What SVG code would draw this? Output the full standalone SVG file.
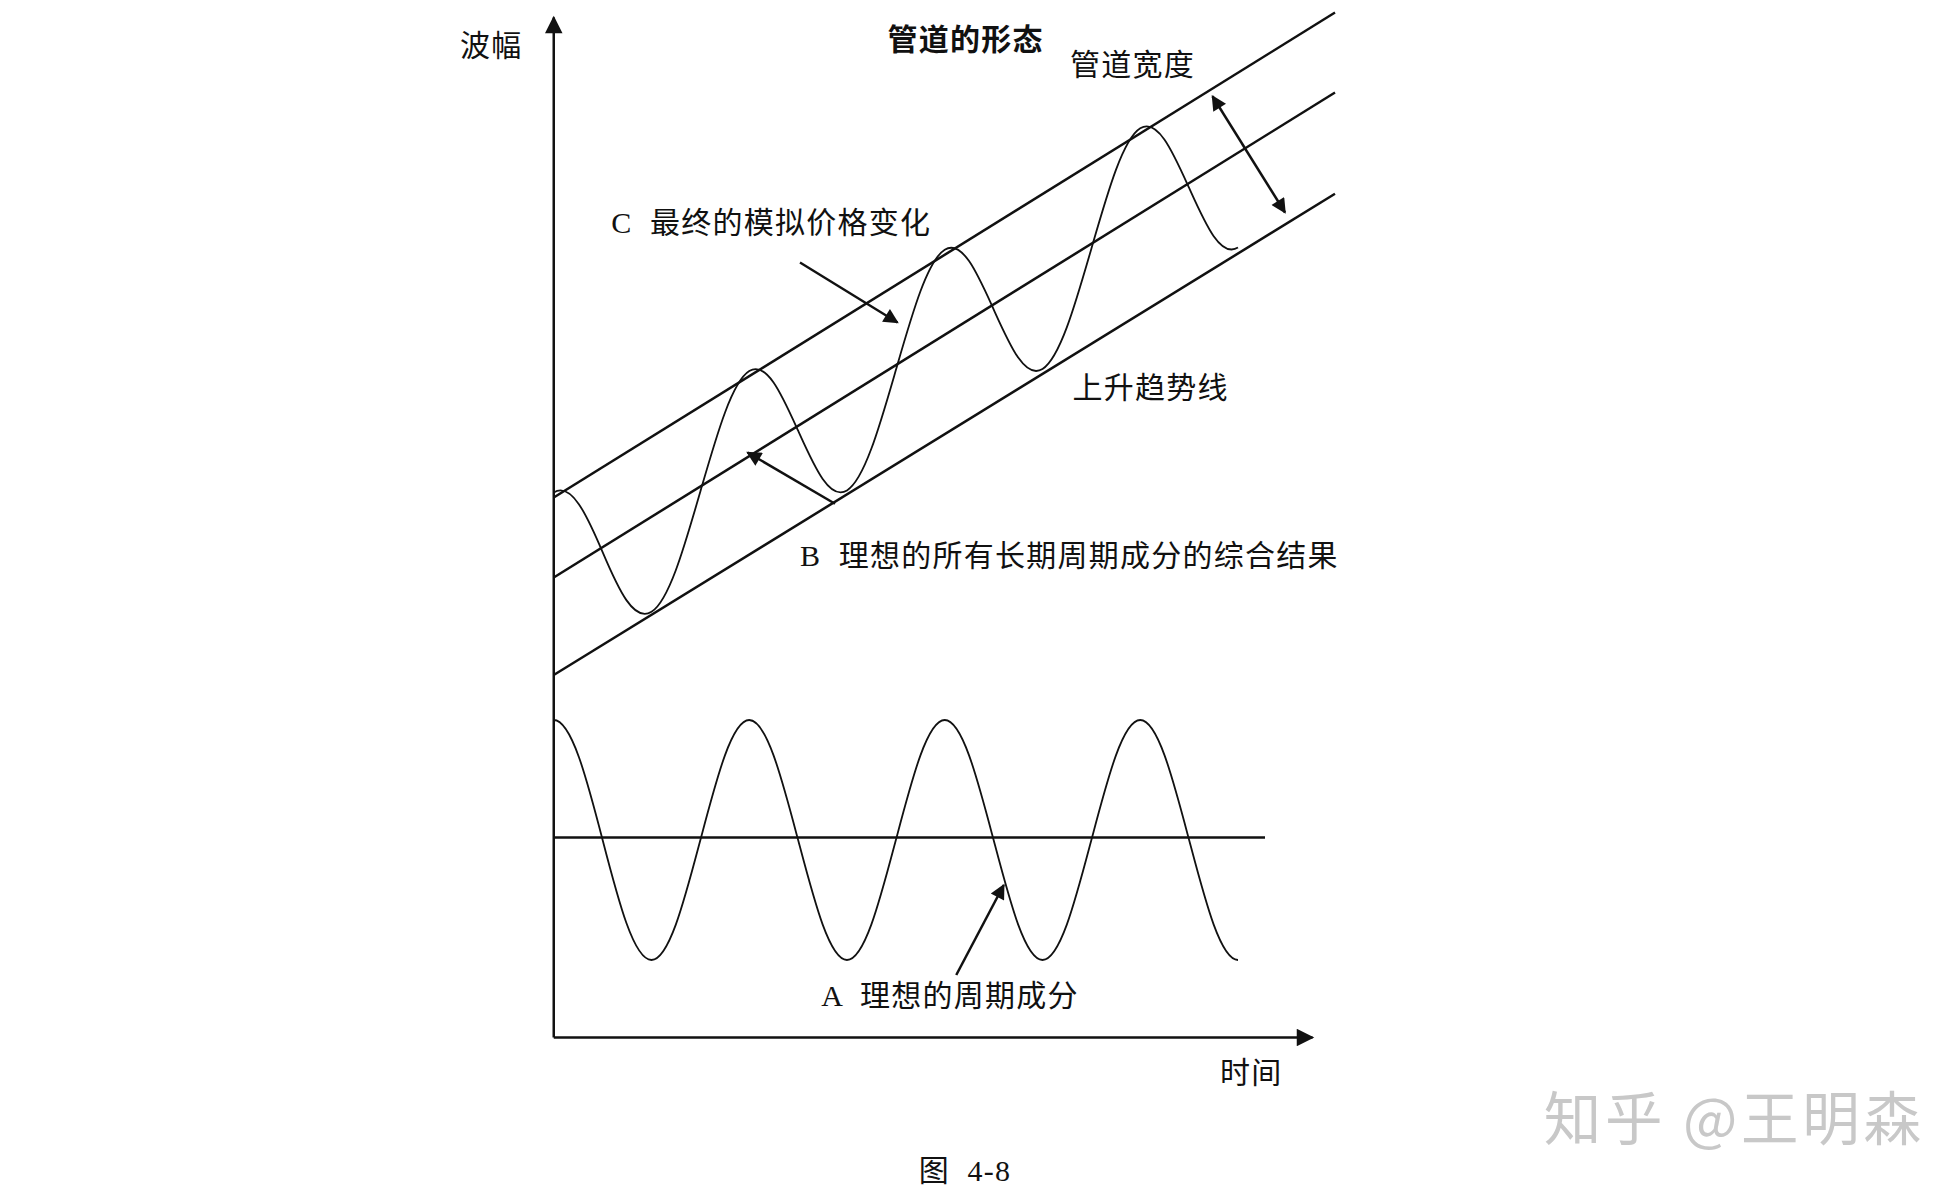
<svg xmlns="http://www.w3.org/2000/svg" width="1960" height="1200" viewBox="0 0 1960 1200">
<style>
.ln{fill:none;stroke:#111;stroke-width:2}
.w{fill:none;stroke:#111;stroke-width:1.8;vector-effect:non-scaling-stroke}
text{font-family:"Liberation Serif","Noto Sans CJK SC",serif;font-size:24px;fill:#111;white-space:pre;letter-spacing:1px}
</style>
<defs>
<marker id="ah" viewBox="0 0 10 10" refX="9" refY="5" markerWidth="16" markerHeight="12" markerUnits="userSpaceOnUse" orient="auto-start-reverse"><path d="M0,0 L10,5 L0,10 Z" fill="#111"/></marker>
<marker id="ax" viewBox="0 0 10 10" refX="9" refY="5" markerWidth="20" markerHeight="14" markerUnits="userSpaceOnUse" orient="auto"><path d="M0,0 L10,5 L0,10 Z" fill="#111"/></marker>
</defs>
<rect width="1960" height="1200" fill="#fff"/>
<g transform="scale(1.25)">
<g id="axes">
<line class="ln" x1="443" y1="830" x2="443" y2="14" marker-end="url(#ax)"/>
<line class="ln" x1="443" y1="830" x2="1050" y2="830" marker-end="url(#ax)"/>
</g>
<g id="channel">
<line class="ln" x1="443" y1="398" x2="1068" y2="10"/>
<line class="ln" x1="443" y1="462" x2="1068" y2="74"/>
<line class="ln" x1="443" y1="540" x2="1068" y2="155"/>
</g>
<g id="waveC" transform="matrix(1,-0.621,0,1,443,462)">
<path class="w" d="M0,-68 c14.17,0 26.37,34.14 39.1,72 s24.97,72 39.1,72 s26.37,-36 39.1,-72 s24.97,-72 39.1,-72
 s26.37,36 39.1,72 s24.97,72 39.1,72 s26.37,-36 39.1,-72 s24.97,-72 39.1,-72
 s26.37,36 39.1,72 s24.97,72 39.1,72 s26.37,-36 39.1,-72 s24.97,-72 39.1,-72
 s26.37,36 39.1,72 s24.97,72 39.1,72"/>
</g>
<g id="waveA">
<line class="ln" x1="443" y1="670" x2="1012" y2="670"/>
<path class="w" transform="translate(443,672)" d="M0,-96 c14.17,0 26.37,46.8 39.1,96 s24.97,96 39.1,96 s26.37,-48 39.1,-96 s24.97,-96 39.1,-96
 s26.37,48 39.1,96 s24.97,96 39.1,96 s26.37,-48 39.1,-96 s24.97,-96 39.1,-96
 s26.37,48 39.1,96 s24.97,96 39.1,96 s26.37,-48 39.1,-96 s24.97,-96 39.1,-96
 s26.37,48 39.1,96 s24.97,96 39.1,96"/>
</g>
<g id="connectors">
<line class="ln" x1="970" y1="77" x2="1028" y2="170" marker-start="url(#ah)" marker-end="url(#ah)"/>
<line class="ln" x1="640" y1="210" x2="718" y2="258" marker-end="url(#ah)"/>
<line class="ln" x1="668" y1="403" x2="598" y2="362" marker-end="url(#ah)"/>
<line class="ln" x1="765" y1="780" x2="803" y2="708" marker-end="url(#ah)"/>
</g>
<g id="labels">
<text x="368" y="45">波幅</text>
<text x="976" y="866">时间</text>
<text x="710" y="40" font-weight="bold">管道的形态</text>
<text x="856" y="60">管道宽度</text>
<text x="489" y="186">C  最终的模拟价格变化</text>
<text x="858" y="318">上升趋势线</text>
<text x="640" y="453">B  理想的所有长期周期成分的综合结果</text>
<text x="657" y="805">A  理想的周期成分</text>
<text x="735" y="945">图  4-8</text>
<text x="1235" y="912" style="fill:#c8c8c8;font-size:46px;letter-spacing:3px;font-family:'Noto Sans CJK SC',sans-serif">知乎 @王明森</text>
</g>
</g>
</svg>
